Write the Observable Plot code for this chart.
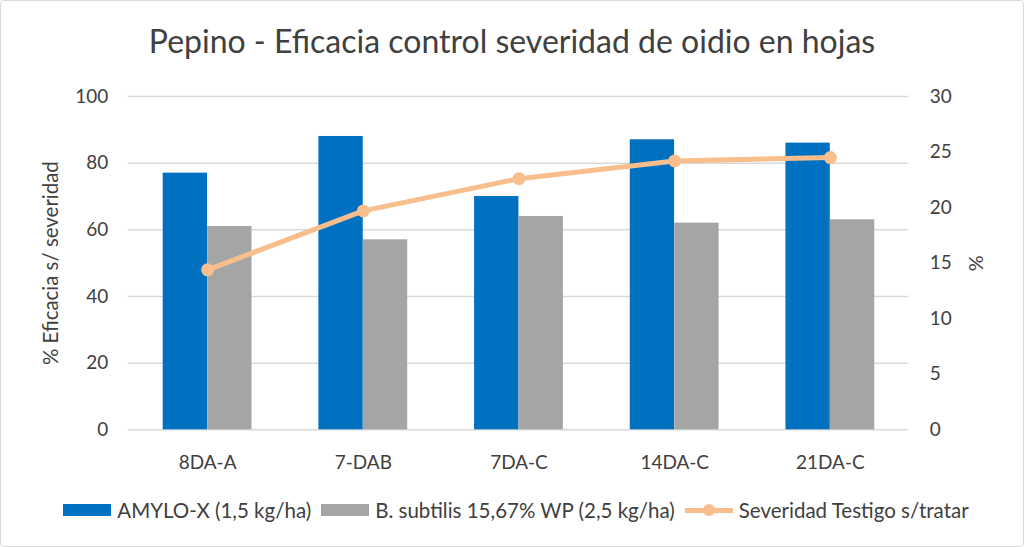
<!DOCTYPE html>
<html>
<head>
<meta charset="utf-8">
<script src="https://cdn.jsdelivr.net/npm/d3@7"></script>
<script src="https://cdn.jsdelivr.net/npm/@observablehq/plot@0.6"></script>
<style>
  html, body { margin: 0; padding: 0; background: #fff; }
  #chart {
    position: relative; width: 1024px; height: 547px; box-sizing: border-box;
    border: 1.5px solid #d9d9d9; border-radius: 4px; background: #fff; overflow: hidden;
    font-family: Lato, "Open Sans", sans-serif; color: #404040;
  }
  #title {
    height: 80px; box-sizing: border-box; padding-top: 22px;
    text-align: center; font-size: 32px; line-height: 36px; color: #404040;
  }
  #plot svg { display: block; }
  #legend {
    height: 57px; box-sizing: border-box; padding-top: 8px;
    display: flex; justify-content: center; align-items: flex-start;
    font-size: 20.5px; line-height: 24px; color: #404040; padding-left: 8px;
  }
  .item { display: flex; align-items: center; margin: 0 5px; height: 24px; }
  .sw { width: 48px; height: 12px; margin-right: 6px; }
  .ln { width: 48px; height: 12px; margin-right: 6px; position: relative; }
  .ln::before { content: ""; position: absolute; left: 0; right: 0; top: 4px; height: 5px; background: #F8BE8C; }
  .ln::after { content: ""; position: absolute; left: 18px; top: 0; width: 12px; height: 12px; border-radius: 50%; background: #F8BE8C; }
</style>
</head>
<body>
<div id="chart">
  <div id="title"></div>
  <div id="plot"></div>
  <div id="legend"></div>
</div>
<script>
const titleText = "Pepino - Eficacia control severidad de oidio en hojas";
const categories = ["8DA-A", "7-DAB", "7DA-C", "14DA-C", "21DA-C"];
const amyloX = [77, 88, 70, 87, 86];
const bSubtilis = [61, 57, 64, 62, 63];
const severidad = [14.4, 19.7, 22.6, 24.2, 24.5];
const leftTicks = [0, 20, 40, 60, 80, 100];
const rightTicks = [0, 5, 10, 15, 20, 25, 30];
const seriesNames = ["AMYLO-X (1,5 kg/ha)", "B. subtilis 15,67% WP (2,5 kg/ha)", "Severidad Testigo s/tratar"];
const leftLabel = "% Eficacia s/ severidad";
const rightLabel = "%";

const colors = {amylo: "#0070C0", sub: "#A5A5A5", sev: "#F8BE8C"};

document.getElementById("title").textContent = titleText;

const W = 1024, H = 410, mL = 127, mR = 115, mT = 15, mB = 61;
const pad = 0.43;
const bw = (W - mL - mR) / categories.length * (1 - pad);
const rightMax = 30, leftMax = 100;
const k = leftMax / rightMax;

const rows = categories.map((c, i) => ({cat: c, amylo: amyloX[i], sub: bSubtilis[i], sev: severidad[i] * k}));

const chart = Plot.plot({
  width: W, height: H,
  marginTop: mT, marginBottom: mB, marginLeft: mL, marginRight: mR,
  style: {fontFamily: "Lato, sans-serif", fontSize: "19px", color: "#404040", background: "white", overflow: "visible"},
  x: {domain: categories, paddingInner: pad, paddingOuter: pad / 2, label: null},
  y: {domain: [0, leftMax], label: null},
  marks: [
    Plot.gridY(leftTicks, {stroke: "#d9d9d9", strokeOpacity: 1, strokeWidth: 1.5}),
    Plot.barY(rows, {x: "cat", y: "amylo", fill: colors.amylo, insetRight: bw / 2, insetLeft: 0}),
    Plot.barY(rows, {x: "cat", y: "sub", fill: colors.sub, insetLeft: bw / 2, insetRight: 0}),
    Plot.line(rows, {x: "cat", y: "sev", stroke: colors.sev, strokeWidth: 5}),
    Plot.dot(rows, {x: "cat", y: "sev", r: 6.5, fill: colors.sev, stroke: "none"}),
    Plot.axisY(leftTicks, {tickSize: 0, tickPadding: 20, label: null, fill: "#404040"}),
    Plot.axisY(rightTicks.map(t => t * k), {anchor: "right", tickSize: 0, tickPadding: 21, textAnchor: "start",
      tickFormat: d => String(Math.round(d / k)), label: null, fill: "#404040"}),
    Plot.axisX({tickSize: 0, tickPadding: 26, label: null, fill: "#404040"}),
    Plot.text([leftLabel], {frameAnchor: "left", dx: -77, rotate: -90, textAnchor: "middle", lineAnchor: "middle", fill: "#404040", fontSize: 20.5}),
    Plot.text([rightLabel], {frameAnchor: "right", dx: 68, rotate: -90, textAnchor: "middle", lineAnchor: "middle", fill: "#404040", fontSize: 20})
  ]
});
document.getElementById("plot").appendChild(chart);

const legend = document.getElementById("legend");
const kinds = [["sw", colors.amylo], ["sw", colors.sub], ["ln", null]];
seriesNames.forEach((name, i) => {
  const item = document.createElement("div");
  item.className = "item";
  const s = document.createElement("span");
  s.className = kinds[i][0];
  if (kinds[i][1]) s.style.background = kinds[i][1];
  const t = document.createElement("span");
  t.textContent = name;
  item.appendChild(s); item.appendChild(t);
  legend.appendChild(item);
});
</script>
</body>
</html>
